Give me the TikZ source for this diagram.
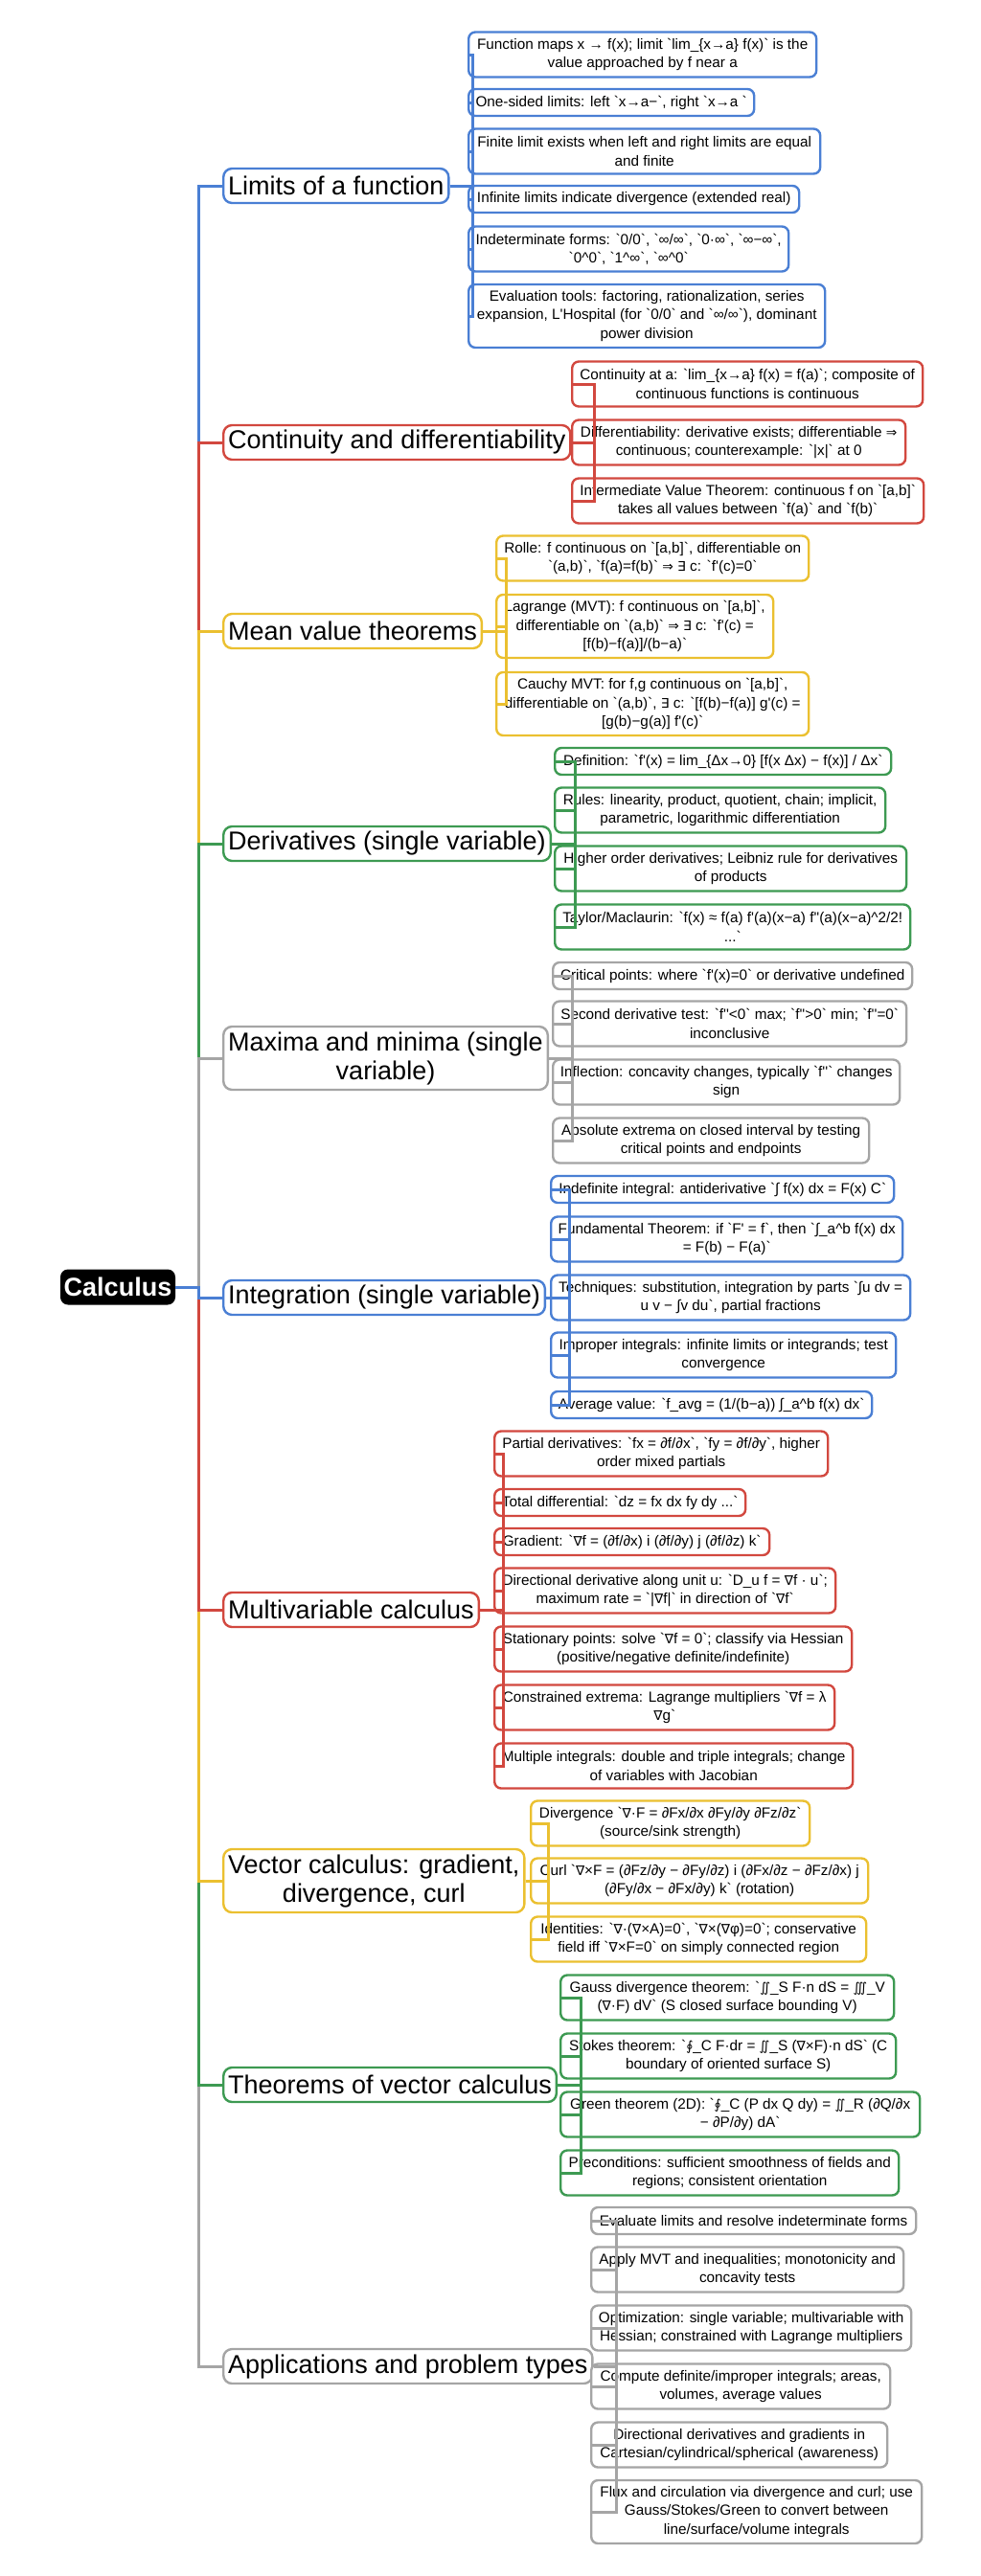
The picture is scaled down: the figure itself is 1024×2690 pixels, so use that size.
\documentclass[tikz,border=0pt]{standalone}
\usepackage{fontspec}
\setmainfont{Liberation Sans}[Ligatures=TeXOff]
\newfontfamily\dvs{DejaVu Sans}[Scale=0.9]
\newcommand\symf[1]{{\dvs #1}}
\definecolor{cblue}{HTML}{4A7FD4}
\definecolor{cred}{HTML}{D2483F}
\definecolor{cyel}{HTML}{EBC030}
\definecolor{cgreen}{HTML}{3D9A52}
\definecolor{cgrey}{HTML}{A5A5A5}
\tikzset{leaf/.style={draw=#1, line width=2.4pt, rounded corners=7pt, fill=white, anchor=west, align=center, inner xsep=6pt, inner ysep=2pt, font=\fontsize{15.3}{19.3}\selectfont}}
\tikzset{l1/.style={minimum height=28pt}, l2/.style={minimum height=47pt}, l3/.style={minimum height=66pt}}
\tikzset{cat/.style={draw=#1, line width=2.4pt, rounded corners=9pt, fill=white, anchor=west, align=center, inner xsep=5pt, inner ysep=2pt, minimum height=36pt, font=\fontsize{27}{30}\selectfont}}
\tikzset{con/.style={draw=#1, line width=3pt}}
\begin{document}
\begin{tikzpicture}[x=1pt,y=-1pt]
\useasboundingbox (0,0) rectangle (1024,2690);
\node[fill=black, rounded corners=8pt, text=white, minimum width=120pt, minimum height=37pt, inner sep=2pt, font=\bfseries\fontsize{27}{30}\selectfont] (root) at (123,1344) {Calculus};
\coordinate (J) at (207,1344);
\node[cat=cblue, minimum width=208pt] (lim) at (232,194) {Limits of a function};
\node[cat=cred, minimum width=316pt] (cont) at (232,462) {Continuity and differentiability};
\node[cat=cyel, minimum width=237pt] (mvt) at (232,659) {Mean value theorems};
\node[cat=cgreen, minimum width=298pt] (der) at (232,881) {Derivatives (single variable)};
\node[cat=cgrey, minimum width=296pt, minimum height=66pt] (max) at (232,1105) {Maxima and minima (single\\variable)};
\node[cat=cblue, minimum width=293pt] (int) at (232,1355) {Integration (single variable)};
\node[cat=cred, minimum width=235pt] (mv) at (232,1681) {Multivariable calculus};
\node[cat=cyel, minimum width=273pt, minimum height=66pt] (vec) at (232,1964) {Vector calculus: gradient,\\divergence, curl};
\node[cat=cgreen, minimum width=304pt] (thm) at (232,2177) {Theorems of vector calculus};
\node[cat=cgrey, minimum width=336pt] (app) at (232,2471) {Applications and problem types};
\draw[con=cblue] (root.east) -- (J) |- (lim.west);
\draw[con=cred] (root.east) -- (J) |- (cont.west);
\draw[con=cyel] (root.east) -- (J) |- (mvt.west);
\draw[con=cgreen] (root.east) -- (J) |- (der.west);
\draw[con=cgrey] (root.east) -- (J) |- (max.west);
\draw[con=cgrey] (root.east) -- (J) |- (app.west);
\draw[con=cgreen] (root.east) -- (J) |- (thm.west);
\draw[con=cyel] (root.east) -- (J) |- (vec.west);
\draw[con=cred] (root.east) -- (J) |- (mv.west);
\draw[con=cblue] (root.east) -- (J) |- (int.west);
\node[leaf=cblue, l2, minimum width=363pt] (L1) at (488,57) {Function maps x → f(x); limit `lim\_\{x→a\} f(x)` is the\\value approached by f near a};
\node[leaf=cblue, l1, minimum width=298pt] (L2) at (488,107) {One-sided limits: left `x→a−`, right `x→a `};
\node[leaf=cblue, l2, minimum width=367pt] (L3) at (488,158) {Finite limit exists when left and right limits are equal\\and finite};
\node[leaf=cblue, l1, minimum width=345pt] (L4) at (488,208) {Infinite limits indicate divergence (extended real)};
\node[leaf=cblue, l2, minimum width=334pt] (L5) at (488,260) {Indeterminate forms: `0/0`, `∞/∞`, `0·∞`, `∞−∞`,\\`0\^{}0`, `1\^{}∞`, `∞\^{}0`};
\node[leaf=cblue, l3, minimum width=372pt] (L6) at (488,330) {Evaluation tools: factoring, rationalization, series\\expansion, L'Hospital (for `0/0` and `∞/∞`), dominant\\power division};
\foreach \n in {L1,L2,L3,L4,L5,L6} \draw[con=cblue] (lim.east) -- ++(24,0) |- (\n.west);
\node[leaf=cred, l2, minimum width=366pt] (C1) at (596,401) {Continuity at a: `lim\_\{x→a\} f(x) = f(a)`; composite of\\continuous functions is continuous};
\node[leaf=cred, l2, minimum width=348pt] (C2) at (596,462) {Differentiability: derivative exists; differentiable \symf{⇒}\\continuous; counterexample: `|x|` at 0};
\node[leaf=cred, l2, minimum width=367pt] (C3) at (596,523) {Intermediate Value Theorem: continuous f on `[a,b]`\\takes all values between `f(a)` and `f(b)`};
\foreach \n in {C1,C2,C3} \draw[con=cred] (cont.east) -- ++(24,0) |- (\n.west);
\node[leaf=cyel, l2, minimum width=326pt] (M1) at (517,583) {Rolle: f continuous on `[a,b]`, differentiable on\\`(a,b)`, `f(a)=f(b)` \symf{⇒} \symf{∃} c: `f'(c)=0`};
\node[leaf=cyel, l3, minimum width=289pt] (M2) at (517,654) {Lagrange (MVT): f continuous on `[a,b]`,\\differentiable on `(a,b)` \symf{⇒} \symf{∃} c: `f'(c) =\\{}[f(b)−f(a)]/(b−a)`};
\node[leaf=cyel, l3, minimum width=326pt] (M3) at (517,735) {Cauchy MVT: for f,g continuous on `[a,b]`,\\differentiable on `(a,b)`, \symf{∃} c: `[f(b)−f(a)] g'(c) =\\{}[g(b)−g(a)] f'(c)`};
\foreach \n in {M1,M2,M3} \draw[con=cyel] (mvt.east) -- ++(24,0) |- (\n.west);
\node[leaf=cgreen, l1, minimum width=351pt] (D1) at (578,795) {Definition: `f'(x) = lim\_\{Δx→0\} [f(x Δx) − f(x)] / Δx`};
\node[leaf=cgreen, l2, minimum width=345pt] (D2) at (578,846) {Rules: linearity, product, quotient, chain; implicit,\\parametric, logarithmic differentiation};
\node[leaf=cgreen, l2, minimum width=367pt] (D3) at (578,907) {Higher order derivatives; Leibniz rule for derivatives\\of products};
\node[leaf=cgreen, l2, minimum width=371pt] (D4) at (578,968) {Taylor/Maclaurin: `f(x) ≈ f(a) f'(a)(x−a) f''(a)(x−a)\^{}2/2!\\...`};
\foreach \n in {D1,D2,D3,D4} \draw[con=cgreen] (der.east) -- ++(24,0) |- (\n.west);
\node[leaf=cgrey, l1, minimum width=375pt] (X1) at (576,1019) {Critical points: where `f'(x)=0` or derivative undefined};
\node[leaf=cgrey, l2, minimum width=369pt] (X2) at (576,1069) {Second derivative test: `f''<0` max; `f''>0` min; `f''=0`\\inconclusive};
\node[leaf=cgrey, l2, minimum width=362pt] (X3) at (576,1130) {Inflection: concavity changes, typically `f''` changes\\sign};
\node[leaf=cgrey, l2, minimum width=330pt] (X4) at (576,1191) {Absolute extrema on closed interval by testing\\critical points and endpoints};
\foreach \n in {X1,X2,X3,X4} \draw[con=cgrey] (max.east) -- ++(24,0) |- (\n.west);
\node[leaf=cblue, l1, minimum width=358pt] (I1) at (574,1242) {Indefinite integral: antiderivative `∫ f(x) dx = F(x) C`};
\node[leaf=cblue, l2, minimum width=367pt] (I2) at (574,1294) {Fundamental Theorem: if `F' = f`, then `∫\_a\^{}b f(x) dx\\= F(b) − F(a)`};
\node[leaf=cblue, l2, minimum width=375pt] (I3) at (574,1355) {Techniques: substitution, integration by parts `∫u dv =\\u v − ∫v du`, partial fractions};
\node[leaf=cblue, l2, minimum width=360pt] (I4) at (574,1415) {Improper integrals: infinite limits or integrands; test\\convergence};
\node[leaf=cblue, l1, minimum width=335pt] (I5) at (574,1467) {Average value: `f\_avg = (1/(b−a)) ∫\_a\^{}b f(x) dx`};
\foreach \n in {I1,I2,I3,I4,I5} \draw[con=cblue] (int.east) -- ++(24,0) |- (\n.west);
\node[leaf=cred, l2, minimum width=348pt] (V1) at (515,1518) {Partial derivatives: `fx = ∂f/∂x`, `fy = ∂f/∂y`, higher\\order mixed partials};
\node[leaf=cred, l1, minimum width=262pt] (V2) at (515,1569) {Total differential: `dz = fx dx fy dy ...`};
\node[leaf=cred, l1, minimum width=287pt] (V3) at (515,1610) {Gradient: `\symf{∇}f = (∂f/∂x) i (∂f/∂y) j (∂f/∂z) k`};
\node[leaf=cred, l2, minimum width=356pt] (V4) at (515,1661) {Directional derivative along unit u: `D\_u f = \symf{∇}f · u`;\\maximum rate = `|\symf{∇}f|` in direction of `\symf{∇}f`};
\node[leaf=cred, l2, minimum width=373pt] (V5) at (515,1722) {Stationary points: solve `\symf{∇}f = 0`; classify via Hessian\\(positive/negative definite/indefinite)};
\node[leaf=cred, l2, minimum width=355pt] (V6) at (515,1783) {Constrained extrema: Lagrange multipliers `\symf{∇}f = λ\\\symf{∇}g`};
\node[leaf=cred, l2, minimum width=374pt] (V7) at (515,1844) {Multiple integrals: double and triple integrals; change\\of variables with Jacobian};
\foreach \n in {V1,V2,V3,V4,V5,V6,V7} \draw[con=cred] (mv.east) -- ++(24,0) |- (\n.west);
\node[leaf=cyel, l2, minimum width=291pt] (W1) at (553,1904) {Divergence `\symf{∇}·F = ∂Fx/∂x ∂Fy/∂y ∂Fz/∂z`\\(source/sink strength)};
\node[leaf=cyel, l2, minimum width=352pt] (W2) at (553,1964) {Curl `\symf{∇}×F = (∂Fz/∂y − ∂Fy/∂z) i (∂Fx/∂z − ∂Fz/∂x) j\\(∂Fy/∂x − ∂Fx/∂y) k` (rotation)};
\node[leaf=cyel, l2, minimum width=350pt] (W3) at (553,2025) {Identities: `\symf{∇}·(\symf{∇}×A)=0`, `\symf{∇}×(\symf{∇}φ)=0`; conservative\\field iff `\symf{∇}×F=0` on simply connected region};
\foreach \n in {W1,W2,W3} \draw[con=cyel] (vec.east) -- ++(24,0) |- (\n.west);
\node[leaf=cgreen, l2, minimum width=348pt] (T1) at (584,2086) {Gauss divergence theorem: `\symf{∬}\_S F·n dS = \symf{∭}\_V\\(\symf{∇}·F) dV` (S closed surface bounding V)};
\node[leaf=cgreen, l2, minimum width=350pt] (T2) at (584,2147) {Stokes theorem: `\symf{∮}\_C F·dr = \symf{∬}\_S (\symf{∇}×F)·n dS` (C\\boundary of oriented surface S)};
\node[leaf=cgreen, l2, minimum width=375pt] (T3) at (584,2208) {Green theorem (2D): `\symf{∮}\_C (P dx Q dy) = \symf{∬}\_R (∂Q/∂x\\− ∂P/∂y) dA`};
\node[leaf=cgreen, l2, minimum width=353pt] (T4) at (584,2269) {Preconditions: sufficient smoothness of fields and\\regions; consistent orientation};
\foreach \n in {T1,T2,T3,T4} \draw[con=cgreen] (thm.east) -- ++(24,0) |- (\n.west);
\node[leaf=cgrey, l1, minimum width=339pt] (A1) at (616,2319) {Evaluate limits and resolve indeterminate forms};
\node[leaf=cgrey, l2, minimum width=326pt] (A2) at (616,2370) {Apply MVT and inequalities; monotonicity and\\concavity tests};
\node[leaf=cgrey, l2, minimum width=334pt] (A3) at (616,2431) {Optimization: single variable; multivariable with\\Hessian; constrained with Lagrange multipliers};
\node[leaf=cgrey, l2, minimum width=312pt] (A4) at (616,2492) {Compute definite/improper integrals; areas,\\volumes, average values};
\node[leaf=cgrey, l2, minimum width=309pt] (A5) at (616,2553) {Directional derivatives and gradients in\\Cartesian/cylindrical/spherical (awareness)};
\node[leaf=cgrey, l3, minimum width=345pt] (A6) at (616,2623) {Flux and circulation via divergence and curl; use\\Gauss/Stokes/Green to convert between\\line/surface/volume integrals};
\foreach \n in {A1,A2,A3,A4,A5,A6} \draw[con=cgrey] (app.east) -- ++(24,0) |- (\n.west);
\end{tikzpicture}
\end{document}
